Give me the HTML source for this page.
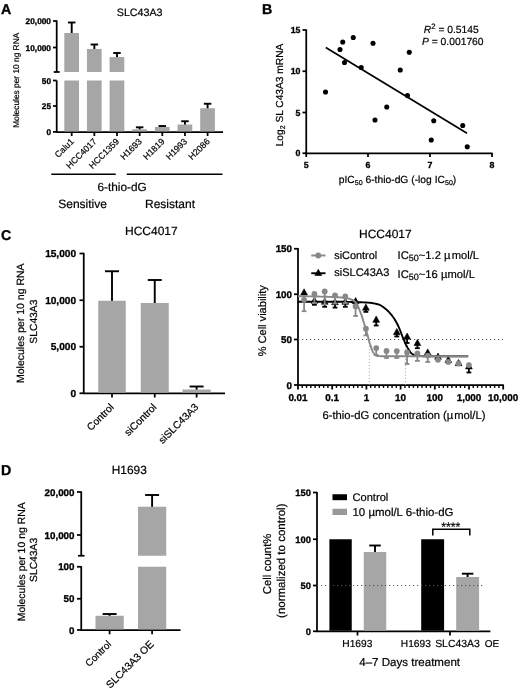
<!DOCTYPE html>
<html lang="en"><head><meta charset="utf-8"><title>Figure</title>
<style>
html,body{margin:0;padding:0;background:#fff;}
svg{display:block;}
svg text{text-rendering:geometricPrecision;font-family:"Liberation Sans",sans-serif;fill:#000;stroke:#000;stroke-width:.2px;}
svg text[font-weight=bold]{stroke-width:.32px;}
</style></head><body>
<svg width="520" height="691" viewBox="0 0 520 691">
<rect x="0" y="0" width="520" height="691" fill="#ffffff"/>
<text x="1" y="14" font-size="14.2" text-anchor="start" font-weight="bold" stroke="#111" stroke-width="0.3">A</text>
<text x="116.75" y="15.5" font-size="10.7" text-anchor="start">SLC43A3</text>
<text x="18.6" y="80.3" font-size="8.35" text-anchor="middle" transform="rotate(-90 18.6 80.3)">Molecules per 10 ng RNA</text>
<line x1="56.7" y1="20.4" x2="56.7" y2="72" stroke="#000" stroke-width="1.75"/>
<line x1="53.7" y1="72" x2="59.7" y2="72" stroke="#000" stroke-width="1.75"/>
<line x1="56.7" y1="80.5" x2="56.7" y2="132.6" stroke="#000" stroke-width="1.75"/>
<line x1="53" y1="21" x2="56.7" y2="21" stroke="#000" stroke-width="1.75"/>
<text x="51" y="24.1" font-size="8.3" text-anchor="end" font-weight="bold" stroke="#111" stroke-width="0.3">20,000</text>
<line x1="53" y1="47.5" x2="56.7" y2="47.5" stroke="#000" stroke-width="1.75"/>
<text x="51" y="50.6" font-size="8.3" text-anchor="end" font-weight="bold" stroke="#111" stroke-width="0.3">10,000</text>
<line x1="53" y1="80.5" x2="56.7" y2="80.5" stroke="#000" stroke-width="1.75"/>
<text x="51" y="83.6" font-size="8.3" text-anchor="end" font-weight="bold" stroke="#111" stroke-width="0.3">50</text>
<line x1="53" y1="106" x2="56.7" y2="106" stroke="#000" stroke-width="1.75"/>
<text x="51" y="109.1" font-size="8.3" text-anchor="end" font-weight="bold" stroke="#111" stroke-width="0.3">25</text>
<line x1="53" y1="131.9" x2="56.7" y2="131.9" stroke="#000" stroke-width="1.75"/>
<text x="51" y="135.0" font-size="8.3" text-anchor="end" font-weight="bold" stroke="#111" stroke-width="0.3">0</text>
<line x1="56.4" y1="132" x2="223" y2="132" stroke="#000" stroke-width="1.75"/>
<line x1="71.7" y1="22.5" x2="71.7" y2="33.5" stroke="#000" stroke-width="1.9"/>
<line x1="67.95" y1="22.5" x2="75.45" y2="22.5" stroke="#000" stroke-width="1.9"/>
<rect x="64.3" y="33" width="14.7" height="39" fill="#a6a6a6"/>
<rect x="64.3" y="80.5" width="14.7" height="50.9" fill="#a6a6a6"/>
<line x1="71.7" y1="132" x2="71.7" y2="136" stroke="#000" stroke-width="1.75"/>
<text x="74.5" y="142" font-size="8.8" text-anchor="end" transform="rotate(-45 74.5 142)">Calu1</text>
<line x1="94.35" y1="44.5" x2="94.35" y2="49.5" stroke="#000" stroke-width="1.9"/>
<line x1="90.6" y1="44.5" x2="98.1" y2="44.5" stroke="#000" stroke-width="1.9"/>
<rect x="86.94999999999999" y="49" width="14.7" height="23" fill="#a6a6a6"/>
<rect x="86.94999999999999" y="80.5" width="14.7" height="50.9" fill="#a6a6a6"/>
<line x1="94.35" y1="132" x2="94.35" y2="136" stroke="#000" stroke-width="1.75"/>
<text x="97.14999999999999" y="142" font-size="8.8" text-anchor="end" transform="rotate(-45 97.14999999999999 142)">HCC4017</text>
<line x1="117.0" y1="53" x2="117.0" y2="57.5" stroke="#000" stroke-width="1.9"/>
<line x1="113.25" y1="53" x2="120.75" y2="53" stroke="#000" stroke-width="1.9"/>
<rect x="109.6" y="57" width="14.7" height="15" fill="#a6a6a6"/>
<rect x="109.6" y="80.5" width="14.7" height="50.9" fill="#a6a6a6"/>
<line x1="117.0" y1="132" x2="117.0" y2="136" stroke="#000" stroke-width="1.75"/>
<text x="119.8" y="142" font-size="8.8" text-anchor="end" transform="rotate(-45 119.8 142)">HCC1359</text>
<line x1="139.64999999999998" y1="127.3" x2="139.64999999999998" y2="129.75" stroke="#000" stroke-width="1.9"/>
<line x1="135.89999999999998" y1="127.3" x2="143.39999999999998" y2="127.3" stroke="#000" stroke-width="1.9"/>
<rect x="132.24999999999997" y="129.25" width="14.7" height="2.15" fill="#a6a6a6"/>
<line x1="139.64999999999998" y1="132" x2="139.64999999999998" y2="136" stroke="#000" stroke-width="1.75"/>
<text x="142.45" y="142" font-size="8.8" text-anchor="end" transform="rotate(-45 142.45 142)">H1693</text>
<line x1="162.3" y1="126" x2="162.3" y2="127.5" stroke="#000" stroke-width="1.9"/>
<line x1="158.55" y1="126" x2="166.05" y2="126" stroke="#000" stroke-width="1.9"/>
<rect x="154.9" y="127" width="14.7" height="4.4" fill="#a6a6a6"/>
<line x1="162.3" y1="132" x2="162.3" y2="136" stroke="#000" stroke-width="1.75"/>
<text x="165.10000000000002" y="142" font-size="8.8" text-anchor="end" transform="rotate(-45 165.10000000000002 142)">H1819</text>
<line x1="184.95" y1="121.25" x2="184.95" y2="125.0" stroke="#000" stroke-width="1.9"/>
<line x1="181.2" y1="121.25" x2="188.7" y2="121.25" stroke="#000" stroke-width="1.9"/>
<rect x="177.54999999999998" y="124.5" width="14.7" height="6.9" fill="#a6a6a6"/>
<line x1="184.95" y1="132" x2="184.95" y2="136" stroke="#000" stroke-width="1.75"/>
<text x="187.75" y="142" font-size="8.8" text-anchor="end" transform="rotate(-45 187.75 142)">H1993</text>
<line x1="207.59999999999997" y1="103.75" x2="207.59999999999997" y2="108.75" stroke="#000" stroke-width="1.9"/>
<line x1="203.84999999999997" y1="103.75" x2="211.34999999999997" y2="103.75" stroke="#000" stroke-width="1.9"/>
<rect x="200.19999999999996" y="108.25" width="14.7" height="23.15" fill="#a6a6a6"/>
<line x1="207.59999999999997" y1="132" x2="207.59999999999997" y2="136" stroke="#000" stroke-width="1.75"/>
<text x="210.39999999999998" y="142" font-size="8.8" text-anchor="end" transform="rotate(-45 210.39999999999998 142)">H2086</text>
<line x1="51.25" y1="174.25" x2="115.75" y2="174.25" stroke="#000" stroke-width="1.6"/>
<line x1="126.75" y1="174.25" x2="222.5" y2="174.25" stroke="#000" stroke-width="1.6"/>
<text x="97.5" y="190.75" font-size="11.8" text-anchor="start">6-thio-dG</text>
<text x="58.25" y="207.5" font-size="12" text-anchor="start">Sensitive</text>
<text x="145" y="207.5" font-size="12" text-anchor="start">Resistant</text>
<text x="262" y="13.5" font-size="14.2" text-anchor="start" font-weight="bold" stroke="#111" stroke-width="0.3">B</text>
<line x1="306.25" y1="29.4" x2="306.25" y2="153.9" stroke="#000" stroke-width="1.75"/>
<line x1="305.6" y1="153.25" x2="492.6" y2="153.25" stroke="#000" stroke-width="1.75"/>
<line x1="302.5" y1="30" x2="306.25" y2="30" stroke="#000" stroke-width="1.75"/>
<text x="300.5" y="33.2" font-size="8.8" text-anchor="end" font-weight="bold" stroke="#111" stroke-width="0.3">15</text>
<line x1="302.5" y1="71.25" x2="306.25" y2="71.25" stroke="#000" stroke-width="1.75"/>
<text x="300.5" y="74.45" font-size="8.8" text-anchor="end" font-weight="bold" stroke="#111" stroke-width="0.3">10</text>
<line x1="302.5" y1="112.5" x2="306.25" y2="112.5" stroke="#000" stroke-width="1.75"/>
<text x="300.5" y="115.7" font-size="8.8" text-anchor="end" font-weight="bold" stroke="#111" stroke-width="0.3">5</text>
<line x1="302.5" y1="153.25" x2="306.25" y2="153.25" stroke="#000" stroke-width="1.75"/>
<text x="300.5" y="156.45" font-size="8.8" text-anchor="end" font-weight="bold" stroke="#111" stroke-width="0.3">0</text>
<line x1="306.25" y1="153.25" x2="306.25" y2="157" stroke="#000" stroke-width="1.75"/>
<text x="306.25" y="167.6" font-size="8.8" text-anchor="middle" font-weight="bold" stroke="#111" stroke-width="0.3">5</text>
<line x1="368" y1="153.25" x2="368" y2="157" stroke="#000" stroke-width="1.75"/>
<text x="368" y="167.6" font-size="8.8" text-anchor="middle" font-weight="bold" stroke="#111" stroke-width="0.3">6</text>
<line x1="430" y1="153.25" x2="430" y2="157" stroke="#000" stroke-width="1.75"/>
<text x="430" y="167.6" font-size="8.8" text-anchor="middle" font-weight="bold" stroke="#111" stroke-width="0.3">7</text>
<line x1="492" y1="153.25" x2="492" y2="157" stroke="#000" stroke-width="1.75"/>
<text x="492" y="167.6" font-size="8.8" text-anchor="middle" font-weight="bold" stroke="#111" stroke-width="0.3">8</text>
<circle cx="325.5" cy="92" r="2.55" fill="#000"/>
<circle cx="340" cy="49.5" r="2.55" fill="#000"/>
<circle cx="342.75" cy="42" r="2.55" fill="#000"/>
<circle cx="344.5" cy="62.5" r="2.55" fill="#000"/>
<circle cx="353.25" cy="37.5" r="2.55" fill="#000"/>
<circle cx="361.25" cy="67.5" r="2.55" fill="#000"/>
<circle cx="373" cy="43.25" r="2.55" fill="#000"/>
<circle cx="386.75" cy="107" r="2.55" fill="#000"/>
<circle cx="375" cy="120" r="2.55" fill="#000"/>
<circle cx="400.25" cy="70" r="2.55" fill="#000"/>
<circle cx="409.25" cy="52.25" r="2.55" fill="#000"/>
<circle cx="407.5" cy="95.6" r="2.55" fill="#000"/>
<circle cx="433.75" cy="120.75" r="2.55" fill="#000"/>
<circle cx="462.75" cy="125.5" r="2.55" fill="#000"/>
<circle cx="431.25" cy="140" r="2.55" fill="#000"/>
<circle cx="467.25" cy="146.75" r="2.55" fill="#000"/>
<line x1="325.75" y1="47.5" x2="467" y2="133.25" stroke="#000" stroke-width="1.7"/>
<text x="423.75" y="32.5" font-size="10.3"><tspan font-style="italic">R</tspan><tspan font-size="7.8" dy="-3.8">2</tspan><tspan dy="3.8"> = 0.5145</tspan></text>
<text x="422" y="44.6" font-size="10.3"><tspan font-style="italic">P</tspan> = 0.001760</text>
<text x="282.7" y="95" font-size="10.2" text-anchor="middle" transform="rotate(-90 282.7 95)">Log<tspan font-size="7" dy="2.2">2</tspan><tspan dy="-2.2"> SL C43A3 mRNA</tspan></text>
<text x="338.75" y="183" font-size="10.3">pIC<tspan font-size="7" dy="2">50</tspan><tspan dy="-2"> 6-thio-dG (-log IC</tspan><tspan font-size="7" dy="2">50</tspan><tspan dy="-2">)</tspan></text>
<text x="1" y="240" font-size="14.2" text-anchor="start" font-weight="bold" stroke="#111" stroke-width="0.3">C</text>
<text x="125" y="235" font-size="12" text-anchor="start">HCC4017</text>
<text x="23.8" y="323.2" font-size="10.5" text-anchor="middle" transform="rotate(-90 23.8 323.2)">Molecules per 10 ng RNA</text>
<text x="36.6" y="321.6" font-size="10.3" text-anchor="middle" transform="rotate(-90 36.6 321.6)">SLC43A3</text>
<line x1="83.75" y1="252.8" x2="83.75" y2="393.9" stroke="#000" stroke-width="1.75"/>
<line x1="83.1" y1="393.25" x2="225" y2="393.25" stroke="#000" stroke-width="1.75"/>
<line x1="79.5" y1="253.5" x2="83.75" y2="253.5" stroke="#000" stroke-width="1.75"/>
<text x="76" y="257.1" font-size="10.1" text-anchor="end" font-weight="bold" stroke="#111" stroke-width="0.3">15,000</text>
<line x1="79.5" y1="300.25" x2="83.75" y2="300.25" stroke="#000" stroke-width="1.75"/>
<text x="76" y="303.85" font-size="10.1" text-anchor="end" font-weight="bold" stroke="#111" stroke-width="0.3">10,000</text>
<line x1="79.5" y1="346.75" x2="83.75" y2="346.75" stroke="#000" stroke-width="1.75"/>
<text x="76" y="350.35" font-size="10.1" text-anchor="end" font-weight="bold" stroke="#111" stroke-width="0.3">5,000</text>
<line x1="79.5" y1="393.25" x2="83.75" y2="393.25" stroke="#000" stroke-width="1.75"/>
<text x="76" y="396.85" font-size="10.1" text-anchor="end" font-weight="bold" stroke="#111" stroke-width="0.3">0</text>
<line x1="112.0" y1="271.25" x2="112.0" y2="301.25" stroke="#000" stroke-width="1.9"/>
<line x1="105.0" y1="271.25" x2="119.0" y2="271.25" stroke="#000" stroke-width="1.9"/>
<rect x="98.25" y="300.75" width="27.5" height="91.85" fill="#a6a6a6"/>
<line x1="112.0" y1="393.25" x2="112.0" y2="397.5" stroke="#000" stroke-width="1.75"/>
<text x="114.5" y="407.8" font-size="10.3" text-anchor="end" transform="rotate(-45 114.5 407.8)">Control</text>
<line x1="154.75" y1="280" x2="154.75" y2="303.5" stroke="#000" stroke-width="1.9"/>
<line x1="147.75" y1="280" x2="161.75" y2="280" stroke="#000" stroke-width="1.9"/>
<rect x="140.75" y="303" width="28.0" height="89.6" fill="#a6a6a6"/>
<line x1="154.75" y1="393.25" x2="154.75" y2="397.5" stroke="#000" stroke-width="1.75"/>
<text x="157.25" y="407.8" font-size="10.3" text-anchor="end" transform="rotate(-45 157.25 407.8)">siControl</text>
<line x1="196.625" y1="386.5" x2="196.625" y2="390.0" stroke="#000" stroke-width="1.9"/>
<line x1="189.625" y1="386.5" x2="203.625" y2="386.5" stroke="#000" stroke-width="1.9"/>
<rect x="182.5" y="389.5" width="28.25" height="3.1" fill="#a6a6a6"/>
<line x1="196.625" y1="393.25" x2="196.625" y2="397.5" stroke="#000" stroke-width="1.75"/>
<text x="199.125" y="407.8" font-size="10.3" text-anchor="end" transform="rotate(-45 199.125 407.8)">siSLC43A3</text>
<text x="359" y="237.6" font-size="12" text-anchor="start">HCC4017</text>
<text x="265.9" y="320.75" font-size="11.05" text-anchor="middle" transform="rotate(-90 265.9 320.75)">% Cell viability</text>
<line x1="298" y1="248.1" x2="298" y2="385.6" stroke="#000" stroke-width="1.75"/>
<line x1="297.4" y1="385" x2="503.8" y2="385" stroke="#000" stroke-width="1.75"/>
<line x1="294" y1="248.75" x2="298" y2="248.75" stroke="#000" stroke-width="1.75"/>
<text x="292" y="252.25" font-size="9.8" text-anchor="end" font-weight="bold" stroke="#111" stroke-width="0.3">150</text>
<line x1="294" y1="294.25" x2="298" y2="294.25" stroke="#000" stroke-width="1.75"/>
<text x="292" y="297.75" font-size="9.8" text-anchor="end" font-weight="bold" stroke="#111" stroke-width="0.3">100</text>
<line x1="294" y1="339.5" x2="298" y2="339.5" stroke="#000" stroke-width="1.75"/>
<text x="292" y="343.0" font-size="9.8" text-anchor="end" font-weight="bold" stroke="#111" stroke-width="0.3">50</text>
<line x1="294" y1="385" x2="298" y2="385" stroke="#000" stroke-width="1.75"/>
<text x="292" y="388.5" font-size="9.8" text-anchor="end" font-weight="bold" stroke="#111" stroke-width="0.3">0</text>
<line x1="298.0" y1="385" x2="298.0" y2="389.5" stroke="#000" stroke-width="1.75"/>
<text x="298.0" y="400.5" font-size="9.9" text-anchor="middle" font-weight="bold" stroke="#111" stroke-width="0.3">0.01</text>
<line x1="302.27" y1="385" x2="302.27" y2="387.9" stroke="#000" stroke-width="1.4"/>
<line x1="306.55" y1="385" x2="306.55" y2="387.9" stroke="#000" stroke-width="1.4"/>
<line x1="310.82" y1="385" x2="310.82" y2="387.9" stroke="#000" stroke-width="1.4"/>
<line x1="315.1" y1="385" x2="315.1" y2="387.9" stroke="#000" stroke-width="1.4"/>
<line x1="319.38" y1="385" x2="319.38" y2="387.9" stroke="#000" stroke-width="1.4"/>
<line x1="323.65" y1="385" x2="323.65" y2="387.9" stroke="#000" stroke-width="1.4"/>
<line x1="327.93" y1="385" x2="327.93" y2="387.9" stroke="#000" stroke-width="1.4"/>
<line x1="332.2" y1="385" x2="332.2" y2="389.5" stroke="#000" stroke-width="1.75"/>
<text x="332.2" y="400.5" font-size="9.9" text-anchor="middle" font-weight="bold" stroke="#111" stroke-width="0.3">0.1</text>
<line x1="336.47" y1="385" x2="336.47" y2="387.9" stroke="#000" stroke-width="1.4"/>
<line x1="340.75" y1="385" x2="340.75" y2="387.9" stroke="#000" stroke-width="1.4"/>
<line x1="345.02" y1="385" x2="345.02" y2="387.9" stroke="#000" stroke-width="1.4"/>
<line x1="349.3" y1="385" x2="349.3" y2="387.9" stroke="#000" stroke-width="1.4"/>
<line x1="353.57" y1="385" x2="353.57" y2="387.9" stroke="#000" stroke-width="1.4"/>
<line x1="357.85" y1="385" x2="357.85" y2="387.9" stroke="#000" stroke-width="1.4"/>
<line x1="362.12" y1="385" x2="362.12" y2="387.9" stroke="#000" stroke-width="1.4"/>
<line x1="366.4" y1="385" x2="366.4" y2="389.5" stroke="#000" stroke-width="1.75"/>
<text x="366.4" y="400.5" font-size="9.9" text-anchor="middle" font-weight="bold" stroke="#111" stroke-width="0.3">1</text>
<line x1="370.67" y1="385" x2="370.67" y2="387.9" stroke="#000" stroke-width="1.4"/>
<line x1="374.95" y1="385" x2="374.95" y2="387.9" stroke="#000" stroke-width="1.4"/>
<line x1="379.22" y1="385" x2="379.22" y2="387.9" stroke="#000" stroke-width="1.4"/>
<line x1="383.5" y1="385" x2="383.5" y2="387.9" stroke="#000" stroke-width="1.4"/>
<line x1="387.77" y1="385" x2="387.77" y2="387.9" stroke="#000" stroke-width="1.4"/>
<line x1="392.05" y1="385" x2="392.05" y2="387.9" stroke="#000" stroke-width="1.4"/>
<line x1="396.32" y1="385" x2="396.32" y2="387.9" stroke="#000" stroke-width="1.4"/>
<line x1="400.6" y1="385" x2="400.6" y2="389.5" stroke="#000" stroke-width="1.75"/>
<text x="400.6" y="400.5" font-size="9.9" text-anchor="middle" font-weight="bold" stroke="#111" stroke-width="0.3">10</text>
<line x1="404.88" y1="385" x2="404.88" y2="387.9" stroke="#000" stroke-width="1.4"/>
<line x1="409.15" y1="385" x2="409.15" y2="387.9" stroke="#000" stroke-width="1.4"/>
<line x1="413.43" y1="385" x2="413.43" y2="387.9" stroke="#000" stroke-width="1.4"/>
<line x1="417.7" y1="385" x2="417.7" y2="387.9" stroke="#000" stroke-width="1.4"/>
<line x1="421.98" y1="385" x2="421.98" y2="387.9" stroke="#000" stroke-width="1.4"/>
<line x1="426.25" y1="385" x2="426.25" y2="387.9" stroke="#000" stroke-width="1.4"/>
<line x1="430.53" y1="385" x2="430.53" y2="387.9" stroke="#000" stroke-width="1.4"/>
<line x1="434.8" y1="385" x2="434.8" y2="389.5" stroke="#000" stroke-width="1.75"/>
<text x="434.8" y="400.5" font-size="9.9" text-anchor="middle" font-weight="bold" stroke="#111" stroke-width="0.3">100</text>
<line x1="439.07" y1="385" x2="439.07" y2="387.9" stroke="#000" stroke-width="1.4"/>
<line x1="443.35" y1="385" x2="443.35" y2="387.9" stroke="#000" stroke-width="1.4"/>
<line x1="447.62" y1="385" x2="447.62" y2="387.9" stroke="#000" stroke-width="1.4"/>
<line x1="451.9" y1="385" x2="451.9" y2="387.9" stroke="#000" stroke-width="1.4"/>
<line x1="456.18" y1="385" x2="456.18" y2="387.9" stroke="#000" stroke-width="1.4"/>
<line x1="460.45" y1="385" x2="460.45" y2="387.9" stroke="#000" stroke-width="1.4"/>
<line x1="464.73" y1="385" x2="464.73" y2="387.9" stroke="#000" stroke-width="1.4"/>
<line x1="469.0" y1="385" x2="469.0" y2="389.5" stroke="#000" stroke-width="1.75"/>
<text x="469.0" y="400.5" font-size="9.9" text-anchor="middle" font-weight="bold" stroke="#111" stroke-width="0.3">1,000</text>
<line x1="473.27" y1="385" x2="473.27" y2="387.9" stroke="#000" stroke-width="1.4"/>
<line x1="477.55" y1="385" x2="477.55" y2="387.9" stroke="#000" stroke-width="1.4"/>
<line x1="481.82" y1="385" x2="481.82" y2="387.9" stroke="#000" stroke-width="1.4"/>
<line x1="486.1" y1="385" x2="486.1" y2="387.9" stroke="#000" stroke-width="1.4"/>
<line x1="490.38" y1="385" x2="490.38" y2="387.9" stroke="#000" stroke-width="1.4"/>
<line x1="494.65" y1="385" x2="494.65" y2="387.9" stroke="#000" stroke-width="1.4"/>
<line x1="498.93" y1="385" x2="498.93" y2="387.9" stroke="#000" stroke-width="1.4"/>
<line x1="503.20000000000005" y1="385" x2="503.20000000000005" y2="389.5" stroke="#000" stroke-width="1.75"/>
<text x="503.20000000000005" y="400.5" font-size="9.9" text-anchor="middle" font-weight="bold" stroke="#111" stroke-width="0.3">10,000</text>
<text x="322.5" y="418.5" font-size="11.24">6-thio-dG concentration (µ<tspan dx="1">mol/L)</tspan></text>
<line x1="298" y1="339.5" x2="503" y2="339.5" stroke="#555" stroke-width="1.0" stroke-dasharray="1.2 2.8"/>
<line x1="369.3" y1="339.5" x2="369.3" y2="385" stroke="#b0b0b0" stroke-width="1.0" stroke-dasharray="1.2 2"/>
<line x1="405.5" y1="339.5" x2="405.5" y2="385" stroke="#b0b0b0" stroke-width="1.0" stroke-dasharray="1.2 2"/>
<polyline points="298,301.8 298.8,301.8 299.5,301.8 300.2,301.8 301.0,301.8 301.8,301.8 302.5,301.8 303.2,301.8 304.0,301.8 304.8,301.8 305.5,301.8 306.2,301.8 307.0,301.8 307.8,301.8 308.5,301.8 309.2,301.8 310.0,301.8 310.8,301.8 311.5,301.8 312.2,301.8 313.0,301.8 313.8,301.8 314.5,301.8 315.2,301.8 316.0,301.8 316.8,301.8 317.5,301.8 318.2,301.8 319.0,301.8 319.8,301.8 320.5,301.8 321.2,301.8 322.0,301.8 322.8,301.8 323.5,301.8 324.2,301.8 325.0,301.8 325.8,301.8 326.5,301.8 327.2,301.8 328.0,301.8 328.8,301.8 329.5,301.8 330.2,301.8 331.0,301.8 331.8,301.8 332.5,301.8 333.2,301.8 334.0,301.8 334.8,301.8 335.5,301.8 336.2,301.8 337.0,301.8 337.8,301.8 338.5,301.8 339.2,301.8 340.0,301.8 340.8,301.8 341.5,301.8 342.2,301.81 343.0,301.81 343.8,301.82 344.5,301.82 345.2,301.83 346.0,301.84 346.8,301.85 347.5,301.86 348.2,301.87 349.0,301.89 349.8,301.9 350.5,301.92 351.2,301.94 352.0,301.96 352.8,301.98 353.5,302.0 354.2,302.02 355.0,302.04 355.8,302.07 356.5,302.09 357.2,302.12 358.0,302.15 358.8,302.18 359.5,302.21 360.2,302.24 361.0,302.27 361.8,302.3 362.5,302.34 363.2,302.37 364.0,302.41 364.8,302.44 365.5,302.48 366.2,302.52 367.0,302.56 367.8,302.6 368.5,302.65 369.2,302.71 370.0,302.79 370.8,302.88 371.5,302.98 372.2,303.1 373.0,303.22 373.8,303.36 374.5,303.51 375.2,303.67 376.0,303.85 376.8,304.03 377.5,304.22 378.2,304.43 379.0,304.66 379.8,304.96 380.5,305.32 381.2,305.74 382.0,306.21 382.8,306.72 383.5,307.26 384.2,307.84 385.0,308.43 385.8,309.03 386.5,309.65 387.2,310.31 388.0,311.01 388.8,311.77 389.5,312.57 390.2,313.41 391.0,314.31 391.8,315.24 392.5,316.21 393.2,317.23 394.0,318.29 394.8,319.44 395.5,320.69 396.2,322.03 397.0,323.46 397.8,324.95 398.5,326.5 399.2,328.18 400.0,330.03 400.8,331.99 401.5,333.97 402.2,335.92 403.0,337.77 403.8,339.53 404.5,341.31 405.2,343.06 406.0,344.73 406.8,346.28 407.5,347.67 408.2,348.89 409.0,350.09 409.8,351.21 410.5,352.23 411.2,353.1 412.0,353.79 412.8,354.29 413.5,354.75 414.2,355.17 415.0,355.53 415.8,355.8 416.5,355.96 417.2,356.02 418.0,356.05 418.8,356.08 419.5,356.11 420.2,356.13 421.0,356.15 421.8,356.17 422.5,356.18 423.2,356.19 424.0,356.2 424.8,356.2 425.5,356.2 426.2,356.2 427.0,356.2 427.8,356.2 428.5,356.2 429.2,356.2 430.0,356.2 430.8,356.2 431.5,356.2 432.2,356.2 433.0,356.2 433.8,356.2 434.5,356.2 435.2,356.2 436.0,356.2 436.8,356.2 437.5,356.2 438.2,356.2 439.0,356.2 439.8,356.2 440.5,356.2 441.2,356.2 442.0,356.2 442.8,356.2 443.5,356.2 444.2,356.2 445.0,356.2 445.8,356.2 446.5,356.2 447.2,356.2 448.0,356.2 448.8,356.2 449.5,356.2 450.2,356.2 451.0,356.2 451.8,356.2 452.5,356.2 453.2,356.2 454.0,356.2 454.8,356.2 455.5,356.2 456.2,356.2 457.0,356.2 457.8,356.2 458.5,356.2 459.2,356.2 460.0,356.2 460.8,356.2 461.5,356.2 462.2,356.2 463.0,356.2 463.8,356.2 464.5,356.2 465.2,356.2 466.0,356.2 466.8,356.2 467.5,356.2 468.2,356.2" fill="none" stroke="#000" stroke-width="1.9" stroke-linejoin="round"/>
<polygon points="300.7,295.0 307.5,295.0 304.1,288.8" fill="#000" stroke="#000" stroke-width="0.6" stroke-linejoin="round"/>
<line x1="314.4" y1="300.5" x2="314.4" y2="304.8" stroke="#000" stroke-width="1.8"/>
<line x1="312.0" y1="304.8" x2="316.79999999999995" y2="304.8" stroke="#000" stroke-width="1.8"/>
<polygon points="311.0,303.2 317.8,303.2 314.4,297.0" fill="#000" stroke="#000" stroke-width="0.6" stroke-linejoin="round"/>
<line x1="324.7" y1="301.6" x2="324.7" y2="306.8" stroke="#000" stroke-width="1.8"/>
<line x1="322.3" y1="306.8" x2="327.09999999999997" y2="306.8" stroke="#000" stroke-width="1.8"/>
<polygon points="321.3,304.3 328.1,304.3 324.7,298.1" fill="#000" stroke="#000" stroke-width="0.6" stroke-linejoin="round"/>
<line x1="335.0" y1="302" x2="335.0" y2="307.6" stroke="#000" stroke-width="1.8"/>
<line x1="332.6" y1="307.6" x2="337.4" y2="307.6" stroke="#000" stroke-width="1.8"/>
<polygon points="331.6,304.7 338.4,304.7 335.0,298.5" fill="#000" stroke="#000" stroke-width="0.6" stroke-linejoin="round"/>
<line x1="345.3" y1="301.6" x2="345.3" y2="306.8" stroke="#000" stroke-width="1.8"/>
<line x1="342.90000000000003" y1="306.8" x2="347.7" y2="306.8" stroke="#000" stroke-width="1.8"/>
<polygon points="341.9,304.3 348.7,304.3 345.3,298.1" fill="#000" stroke="#000" stroke-width="0.6" stroke-linejoin="round"/>
<polygon points="352.2,303.7 359.0,303.7 355.6,297.5" fill="#000" stroke="#000" stroke-width="0.6" stroke-linejoin="round"/>
<line x1="365.9" y1="307.5" x2="365.9" y2="311.9" stroke="#000" stroke-width="1.8"/>
<line x1="363.5" y1="311.9" x2="368.29999999999995" y2="311.9" stroke="#000" stroke-width="1.8"/>
<polygon points="362.5,310.2 369.3,310.2 365.9,304.0" fill="#000" stroke="#000" stroke-width="0.6" stroke-linejoin="round"/>
<line x1="376.2" y1="319.6" x2="376.2" y2="325.5" stroke="#000" stroke-width="1.8"/>
<line x1="373.8" y1="325.5" x2="378.59999999999997" y2="325.5" stroke="#000" stroke-width="1.8"/>
<polygon points="372.8,322.3 379.6,322.3 376.2,316.1" fill="#000" stroke="#000" stroke-width="0.6" stroke-linejoin="round"/>
<line x1="396.8" y1="332" x2="396.8" y2="336.5" stroke="#000" stroke-width="1.8"/>
<line x1="394.40000000000003" y1="336.5" x2="399.2" y2="336.5" stroke="#000" stroke-width="1.8"/>
<polygon points="393.4,334.7 400.2,334.7 396.8,328.5" fill="#000" stroke="#000" stroke-width="0.6" stroke-linejoin="round"/>
<line x1="407.1" y1="336.5" x2="407.1" y2="343" stroke="#000" stroke-width="1.8"/>
<line x1="404.70000000000005" y1="343" x2="409.5" y2="343" stroke="#000" stroke-width="1.8"/>
<polygon points="403.7,339.2 410.5,339.2 407.1,333.0" fill="#000" stroke="#000" stroke-width="0.6" stroke-linejoin="round"/>
<line x1="417.4" y1="342.9" x2="417.4" y2="348.2" stroke="#000" stroke-width="1.8"/>
<line x1="415.0" y1="348.2" x2="419.79999999999995" y2="348.2" stroke="#000" stroke-width="1.8"/>
<polygon points="414.0,345.6 420.8,345.6 417.4,339.4" fill="#000" stroke="#000" stroke-width="0.6" stroke-linejoin="round"/>
<polygon points="424.3,355.1 431.1,355.1 427.7,348.9" fill="#000" stroke="#000" stroke-width="0.6" stroke-linejoin="round"/>
<polygon points="434.6,359.3 441.4,359.3 438.0,353.1" fill="#000" stroke="#000" stroke-width="0.6" stroke-linejoin="round"/>
<polygon points="444.9,362.5 451.7,362.5 448.3,356.3" fill="#000" stroke="#000" stroke-width="0.6" stroke-linejoin="round"/>
<polygon points="455.2,365.7 462.0,365.7 458.6,359.5" fill="#000" stroke="#000" stroke-width="0.6" stroke-linejoin="round"/>
<line x1="468.9" y1="366.2" x2="468.9" y2="372.5" stroke="#000" stroke-width="1.8"/>
<line x1="466.5" y1="372.5" x2="471.29999999999995" y2="372.5" stroke="#000" stroke-width="1.8"/>
<polygon points="465.5,368.9 472.3,368.9 468.9,362.7" fill="#000" stroke="#000" stroke-width="0.6" stroke-linejoin="round"/>
<polyline points="298,296.2 298.8,296.21 299.5,296.21 300.2,296.22 301.0,296.23 301.8,296.23 302.5,296.24 303.2,296.25 304.0,296.26 304.8,296.28 305.5,296.29 306.2,296.3 307.0,296.31 307.8,296.33 308.5,296.34 309.2,296.35 310.0,296.37 310.8,296.38 311.5,296.4 312.2,296.42 313.0,296.43 313.8,296.45 314.5,296.47 315.2,296.48 316.0,296.5 316.8,296.52 317.5,296.54 318.2,296.56 319.0,296.57 319.8,296.59 320.5,296.61 321.2,296.63 322.0,296.65 322.8,296.67 323.5,296.69 324.2,296.71 325.0,296.73 325.8,296.75 326.5,296.78 327.2,296.8 328.0,296.82 328.8,296.85 329.5,296.87 330.2,296.9 331.0,296.93 331.8,296.96 332.5,296.99 333.2,297.02 334.0,297.06 334.8,297.09 335.5,297.13 336.2,297.17 337.0,297.21 337.8,297.26 338.5,297.3 339.2,297.35 340.0,297.4 340.8,297.46 341.5,297.52 342.2,297.6 343.0,297.68 343.8,297.78 344.5,297.88 345.2,298.0 346.0,298.13 346.8,298.27 347.5,298.42 348.2,298.58 349.0,298.75 349.8,298.94 350.5,299.18 351.2,299.46 352.0,299.79 352.8,300.17 353.5,300.61 354.2,301.11 355.0,301.67 355.8,302.35 356.5,303.38 357.2,304.76 358.0,306.38 358.8,308.15 359.5,309.99 360.2,311.81 361.0,313.79 361.8,315.94 362.5,318.23 363.2,320.61 364.0,323.04 364.8,325.49 365.5,328.05 366.2,330.73 367.0,333.45 367.8,336.16 368.5,338.8 369.2,341.44 370.0,344.05 370.8,346.36 371.5,348.41 372.2,350.34 373.0,352.01 373.8,353.24 374.5,354.14 375.2,354.94 376.0,355.54 376.8,355.87 377.5,355.97 378.2,356.04 379.0,356.1 379.8,356.14 380.5,356.17 381.2,356.19 382.0,356.2 382.8,356.2 383.5,356.2 384.2,356.2 385.0,356.2 385.8,356.2 386.5,356.2 387.2,356.2 388.0,356.2 388.8,356.2 389.5,356.2 390.2,356.2 391.0,356.2 391.8,356.2 392.5,356.2 393.2,356.2 394.0,356.2 394.8,356.2 395.5,356.2 396.2,356.2 397.0,356.2 397.8,356.2 398.5,356.2 399.2,356.2 400.0,356.2 400.8,356.2 401.5,356.2 402.2,356.2 403.0,356.2 403.8,356.2 404.5,356.2 405.2,356.2 406.0,356.2 406.8,356.2 407.5,356.2 408.2,356.2 409.0,356.2 409.8,356.2 410.5,356.2 411.2,356.2 412.0,356.2 412.8,356.2 413.5,356.2 414.2,356.2 415.0,356.2 415.8,356.2 416.5,356.2 417.2,356.2 418.0,356.2 418.8,356.2 419.5,356.2 420.2,356.2 421.0,356.2 421.8,356.2 422.5,356.2 423.2,356.2 424.0,356.2 424.8,356.2 425.5,356.2 426.2,356.2 427.0,356.2 427.8,356.2 428.5,356.2 429.2,356.2 430.0,356.2 430.8,356.2 431.5,356.2 432.2,356.2 433.0,356.2 433.8,356.2 434.5,356.2 435.2,356.2 436.0,356.2 436.8,356.2 437.5,356.2 438.2,356.2 439.0,356.2 439.8,356.2 440.5,356.2 441.2,356.2 442.0,356.2 442.8,356.2 443.5,356.2 444.2,356.2 445.0,356.2 445.8,356.2 446.5,356.2 447.2,356.2 448.0,356.2 448.8,356.2 449.5,356.2 450.2,356.2 451.0,356.2 451.8,356.2 452.5,356.2 453.2,356.2 454.0,356.2 454.8,356.2 455.5,356.2 456.2,356.2 457.0,356.2 457.8,356.2 458.5,356.2 459.2,356.2 460.0,356.2 460.8,356.2 461.5,356.2 462.2,356.2 463.0,356.2 463.8,356.2 464.5,356.2 465.2,356.2 466.0,356.2 466.8,356.2 467.5,356.2 468.2,356.2" fill="none" stroke="#888888" stroke-width="1.9" stroke-linejoin="round"/>
<line x1="304.1" y1="299.8" x2="304.1" y2="311.2" stroke="#888888" stroke-width="1.8"/>
<line x1="301.70000000000005" y1="311.2" x2="306.5" y2="311.2" stroke="#888888" stroke-width="1.8"/>
<circle cx="304.1" cy="299.8" r="2.9" fill="#888888"/>
<line x1="314.4" y1="293.9" x2="314.4" y2="303" stroke="#888888" stroke-width="1.8"/>
<line x1="312.0" y1="303" x2="316.79999999999995" y2="303" stroke="#888888" stroke-width="1.8"/>
<circle cx="314.4" cy="293.9" r="2.9" fill="#888888"/>
<line x1="324.7" y1="291.4" x2="324.7" y2="304.5" stroke="#888888" stroke-width="1.8"/>
<line x1="322.3" y1="304.5" x2="327.09999999999997" y2="304.5" stroke="#888888" stroke-width="1.8"/>
<circle cx="324.7" cy="291.4" r="2.9" fill="#888888"/>
<line x1="335.0" y1="295.5" x2="335.0" y2="303.5" stroke="#888888" stroke-width="1.8"/>
<line x1="332.6" y1="303.5" x2="337.4" y2="303.5" stroke="#888888" stroke-width="1.8"/>
<circle cx="335.0" cy="295.5" r="2.9" fill="#888888"/>
<line x1="345.3" y1="296.3" x2="345.3" y2="303" stroke="#888888" stroke-width="1.8"/>
<line x1="342.90000000000003" y1="303" x2="347.7" y2="303" stroke="#888888" stroke-width="1.8"/>
<circle cx="345.3" cy="296.3" r="2.9" fill="#888888"/>
<line x1="355.6" y1="306.4" x2="355.6" y2="316" stroke="#888888" stroke-width="1.8"/>
<line x1="353.20000000000005" y1="316" x2="358.0" y2="316" stroke="#888888" stroke-width="1.8"/>
<circle cx="355.6" cy="306.4" r="2.9" fill="#888888"/>
<line x1="365.9" y1="328.7" x2="365.9" y2="335.4" stroke="#888888" stroke-width="1.8"/>
<line x1="363.5" y1="335.4" x2="368.29999999999995" y2="335.4" stroke="#888888" stroke-width="1.8"/>
<circle cx="365.9" cy="328.7" r="2.9" fill="#888888"/>
<line x1="376.2" y1="348.1" x2="376.2" y2="355" stroke="#888888" stroke-width="1.8"/>
<line x1="373.8" y1="355" x2="378.59999999999997" y2="355" stroke="#888888" stroke-width="1.8"/>
<circle cx="376.2" cy="348.1" r="2.9" fill="#888888"/>
<line x1="386.5" y1="350.9" x2="386.5" y2="358" stroke="#888888" stroke-width="1.8"/>
<line x1="384.1" y1="358" x2="388.9" y2="358" stroke="#888888" stroke-width="1.8"/>
<circle cx="386.5" cy="350.9" r="2.9" fill="#888888"/>
<line x1="396.8" y1="351.1" x2="396.8" y2="358" stroke="#888888" stroke-width="1.8"/>
<line x1="394.40000000000003" y1="358" x2="399.2" y2="358" stroke="#888888" stroke-width="1.8"/>
<circle cx="396.8" cy="351.1" r="2.9" fill="#888888"/>
<line x1="407.1" y1="352.4" x2="407.1" y2="364" stroke="#888888" stroke-width="1.8"/>
<line x1="404.70000000000005" y1="364" x2="409.5" y2="364" stroke="#888888" stroke-width="1.8"/>
<circle cx="407.1" cy="352.4" r="2.9" fill="#888888"/>
<line x1="417.4" y1="353.5" x2="417.4" y2="360.9" stroke="#888888" stroke-width="1.8"/>
<line x1="415.0" y1="360.9" x2="419.79999999999995" y2="360.9" stroke="#888888" stroke-width="1.8"/>
<circle cx="417.4" cy="353.5" r="2.9" fill="#888888"/>
<line x1="427.7" y1="355.6" x2="427.7" y2="362" stroke="#888888" stroke-width="1.8"/>
<line x1="425.3" y1="362" x2="430.09999999999997" y2="362" stroke="#888888" stroke-width="1.8"/>
<circle cx="427.7" cy="355.6" r="2.9" fill="#888888"/>
<circle cx="438.0" cy="359.8" r="2.9" fill="#888888"/>
<circle cx="448.3" cy="361.9" r="2.9" fill="#888888"/>
<circle cx="458.6" cy="363.4" r="2.9" fill="#888888"/>
<circle cx="468.9" cy="365.1" r="2.9" fill="#888888"/>
<line x1="311.25" y1="255.5" x2="325.5" y2="255.5" stroke="#888888" stroke-width="1.9"/>
<circle cx="318.3" cy="255.5" r="2.9" fill="#888888"/>
<text x="334.25" y="258.9" font-size="10.9" text-anchor="start">siControl</text>
<line x1="311.25" y1="273.25" x2="325.5" y2="273.25" stroke="#000" stroke-width="1.9"/>
<polygon points="314.9,275.5 321.7,275.5 318.3,269.3" fill="#000" stroke="#000" stroke-width="0.6" stroke-linejoin="round"/>
<text x="334.25" y="276.4" font-size="11" text-anchor="start">siSLC43A3</text>
<text x="397.6" y="259.1" font-size="11.2">IC<tspan font-size="9" dy="1.9">50</tspan><tspan dy="-1.9">~1.2 µ</tspan><tspan dx="1.2">mol/L</tspan></text>
<text x="397.6" y="277.6" font-size="11.2">IC<tspan font-size="9" dy="1.9">50</tspan><tspan dy="-1.9">~16 µ</tspan><tspan dx="0.2">mol/L</tspan></text>
<text x="1" y="474.5" font-size="14.2" text-anchor="start" font-weight="bold" stroke="#111" stroke-width="0.3">D</text>
<text x="111.75" y="473.75" font-size="11.9" text-anchor="start">H1693</text>
<text x="24.8" y="561.8" font-size="10.45" text-anchor="middle" transform="rotate(-90 24.8 561.8)">Molecules per 10 ng RNA</text>
<text x="37" y="559.9" font-size="10.3" text-anchor="middle" transform="rotate(-90 37 559.9)">SLC43A3</text>
<line x1="81.25" y1="491.4" x2="81.25" y2="555.75" stroke="#000" stroke-width="1.75"/>
<line x1="78" y1="555.75" x2="84.5" y2="555.75" stroke="#000" stroke-width="1.75"/>
<line x1="81.25" y1="566.2" x2="81.25" y2="630.6" stroke="#000" stroke-width="1.75"/>
<line x1="77" y1="492" x2="81.25" y2="492" stroke="#000" stroke-width="1.75"/>
<text x="74.5" y="495.5" font-size="9.8" text-anchor="end" font-weight="bold" stroke="#111" stroke-width="0.3">20,000</text>
<line x1="77" y1="535" x2="81.25" y2="535" stroke="#000" stroke-width="1.75"/>
<text x="74.5" y="538.5" font-size="9.8" text-anchor="end" font-weight="bold" stroke="#111" stroke-width="0.3">10,000</text>
<line x1="77" y1="566.75" x2="81.25" y2="566.75" stroke="#000" stroke-width="1.75"/>
<text x="74.5" y="570.25" font-size="9.8" text-anchor="end" font-weight="bold" stroke="#111" stroke-width="0.3">100</text>
<line x1="77" y1="598.75" x2="81.25" y2="598.75" stroke="#000" stroke-width="1.75"/>
<text x="74.5" y="602.25" font-size="9.8" text-anchor="end" font-weight="bold" stroke="#111" stroke-width="0.3">50</text>
<line x1="77" y1="630" x2="81.25" y2="630" stroke="#000" stroke-width="1.75"/>
<text x="74.5" y="633.5" font-size="9.8" text-anchor="end" font-weight="bold" stroke="#111" stroke-width="0.3">0</text>
<line x1="80.6" y1="630" x2="180.5" y2="630" stroke="#000" stroke-width="1.75"/>
<line x1="109.6" y1="614" x2="109.6" y2="616.2" stroke="#000" stroke-width="1.9"/>
<line x1="102.6" y1="614" x2="116.6" y2="614" stroke="#000" stroke-width="1.9"/>
<rect x="95.5" y="615.75" width="28.25" height="13.65" fill="#a6a6a6"/>
<line x1="152.1" y1="495" x2="152.1" y2="507.2" stroke="#000" stroke-width="1.9"/>
<line x1="145.1" y1="495" x2="159.1" y2="495" stroke="#000" stroke-width="1.9"/>
<rect x="138" y="506.75" width="28.25" height="49.0" fill="#a6a6a6"/>
<rect x="138" y="566.75" width="28.25" height="62.65" fill="#a6a6a6"/>
<line x1="109.6" y1="630" x2="109.6" y2="634.3" stroke="#000" stroke-width="1.75"/>
<text x="111.89999999999999" y="644.8" font-size="9.9" text-anchor="end" transform="rotate(-45 111.89999999999999 644.8)">Control</text>
<line x1="152.1" y1="630" x2="152.1" y2="634.3" stroke="#000" stroke-width="1.75"/>
<text x="154.4" y="644.8" font-size="10.4" text-anchor="end" transform="rotate(-45 154.4 644.8)">SLC43A3 OE</text>
<text x="271.5" y="563.9" font-size="11.4" text-anchor="middle" transform="rotate(-90 271.5 563.9)">Cell count%</text>
<text x="284.6" y="560.7" font-size="11.5" text-anchor="middle" transform="rotate(-90 284.6 560.7)">(normalized to control)</text>
<line x1="317" y1="491.9" x2="317" y2="632" stroke="#000" stroke-width="1.75"/>
<line x1="316.4" y1="631.3" x2="490.4" y2="631.3" stroke="#000" stroke-width="1.75"/>
<line x1="313" y1="492.5" x2="317" y2="492.5" stroke="#000" stroke-width="1.75"/>
<text x="311" y="495.9" font-size="9.4" text-anchor="end" font-weight="bold" stroke="#111" stroke-width="0.3">150</text>
<line x1="313" y1="539.25" x2="317" y2="539.25" stroke="#000" stroke-width="1.75"/>
<text x="311" y="542.65" font-size="9.4" text-anchor="end" font-weight="bold" stroke="#111" stroke-width="0.3">100</text>
<line x1="313" y1="585.5" x2="317" y2="585.5" stroke="#000" stroke-width="1.75"/>
<text x="311" y="588.9" font-size="9.4" text-anchor="end" font-weight="bold" stroke="#111" stroke-width="0.3">50</text>
<line x1="313" y1="631.3" x2="317" y2="631.3" stroke="#000" stroke-width="1.75"/>
<text x="311" y="634.6999999999999" font-size="9.4" text-anchor="end" font-weight="bold" stroke="#111" stroke-width="0.3">0</text>
<rect x="329.4" y="539.25" width="22.35" height="91.45" fill="#000"/>
<line x1="375" y1="545.5" x2="375" y2="552.5" stroke="#000" stroke-width="1.9"/>
<line x1="369.25" y1="545.5" x2="380.75" y2="545.5" stroke="#000" stroke-width="1.9"/>
<rect x="363.75" y="552" width="22.5" height="78.7" fill="#a6a6a6"/>
<rect x="421.2" y="539.25" width="22.9" height="91.45" fill="#000"/>
<line x1="467.6" y1="573.7" x2="467.6" y2="577.5" stroke="#000" stroke-width="1.9"/>
<line x1="461.85" y1="573.7" x2="473.35" y2="573.7" stroke="#000" stroke-width="1.9"/>
<rect x="456.2" y="577" width="22.9" height="53.7" fill="#a6a6a6"/>
<line x1="317" y1="585.5" x2="483.5" y2="585.5" stroke="#555" stroke-width="1.0" stroke-dasharray="1.2 2.8"/>
<line x1="357.5" y1="631.3" x2="357.5" y2="635.5" stroke="#000" stroke-width="1.75"/>
<line x1="450" y1="631.3" x2="450" y2="635.5" stroke="#000" stroke-width="1.75"/>
<polyline points="432.8,535.5 432.8,529.2 469.8,529.2 469.8,535.5" fill="none" stroke="#000" stroke-width="1.5"/>
<text x="450.8" y="531.0" font-size="12.4" text-anchor="middle" stroke="#111" stroke-width="0.25">****</text>
<rect x="332.5" y="494.25" width="14.5" height="5.95" fill="#000"/>
<rect x="332.5" y="508.75" width="14.5" height="6.25" fill="#999999"/>
<text x="352.5" y="500.6" font-size="11.1" text-anchor="start">Control</text>
<text x="352.5" y="515.8" font-size="11.45" text-anchor="start">10 µmol/L 6-thio-dG</text>
<text x="342.3" y="647" font-size="10.2" text-anchor="start">H1693</text>
<text x="400.8" y="647" font-size="10.2" text-anchor="start">H1693</text>
<text x="435.2" y="647" font-size="10.4" text-anchor="start">SLC43A3</text>
<text x="484.8" y="647" font-size="10.0" text-anchor="start">OE</text>
<text x="359.25" y="666" font-size="11.55" text-anchor="start">4–7 Days treatment</text>
</svg>
</body></html>
